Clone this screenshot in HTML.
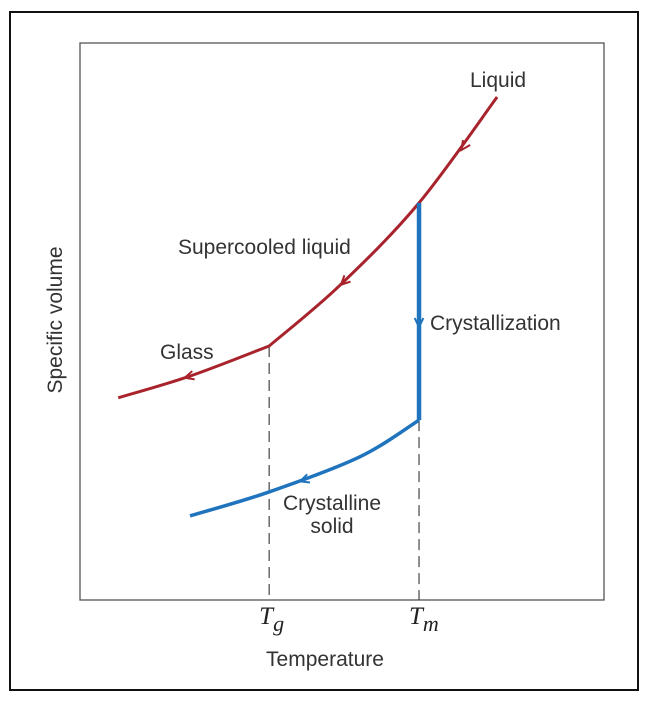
<!DOCTYPE html>
<html><head><meta charset="utf-8"><style>
body{margin:0;background:#fff;}
svg{display:block;font-family:"Liberation Sans",sans-serif;}
</style></head><body>
<svg id="chart" width="656" height="706" viewBox="0 0 656 706">
<rect x="10" y="12" width="628" height="678" fill="#fff" stroke="#111" stroke-width="2"/>
<rect x="80" y="43" width="524" height="557" fill="none" stroke="#555" stroke-width="1.3"/>
<g id="marks"></g>
<text x="470" y="87" font-size="21" fill="#333">Liquid</text>
<text x="178" y="254" font-size="21" fill="#333">Supercooled liquid</text>
<text x="160" y="359" font-size="21" fill="#333">Glass</text>
<text x="430" y="330" font-size="21" fill="#333">Crystallization</text>
<text x="332" y="510" font-size="21" fill="#333" text-anchor="middle">Crystalline</text>
<text x="332" y="533" font-size="21" fill="#333" text-anchor="middle">solid</text>
<text x="325" y="666" font-size="21" fill="#333" text-anchor="middle">Temperature</text>
<text transform="translate(62,320) rotate(-90)" font-size="21" fill="#333" text-anchor="middle">Specific volume</text>
</svg>
<script>
const glassX=[7.3,21.0,36.1];
const glassY=[36.3,40.2,45.6];
const liquidX=[36.1,49.6,64.7,79.6];
const liquidY=[45.6,56.5,71.3,90.3];
const blueX=[21.0,36.1,53.4,64.7];
const blueY=[15.1,19.4,25.7,32.3];
const tickLabels=["T","T"];
const tickSubs=["g","m"];
const tickX=[36.1,64.7];
const crystTop=71.3, crystBottom=32.3;
const sx=v=>80+v*5.24, sy=v=>600-v*5.57;
const NS="http://www.w3.org/2000/svg";
const g=document.getElementById('marks');
function mk(t,a){const e=document.createElementNS(NS,t);for(const k in a)e.setAttribute(k,a[k]);g.appendChild(e);return e;}
function smooth(xs,ys){const p=xs.map((x,i)=>[sx(x),sy(ys[i])]);let d="M"+p[0];
for(let i=0;i<p.length-1;i++){const p0=p[Math.max(0,i-1)],p1=p[i],p2=p[i+1],p3=p[Math.min(p.length-1,i+2)];
const c1=[p1[0]+(p2[0]-p0[0])/6,p1[1]+(p2[1]-p0[1])/6],c2=[p2[0]-(p3[0]-p1[0])/6,p2[1]-(p3[1]-p1[1])/6];
d+=" C"+c1+" "+c2+" "+p2;}return d;}
tickX.forEach((t,i)=>{const l=mk('line',{x1:sx(t),x2:sx(t),y1:sy(i==0?glassY[2]:blueY[3]),y2:600,stroke:'#444','stroke-width':1.2,'stroke-dasharray':'11,6'});


const tx=mk('text',{x:sx(t)-10,y:624,'font-size':25,'font-style':'italic','font-family':'Liberation Serif,serif',fill:'#222'});
tx.textContent=tickLabels[i];


const ts=mk('tspan',{'font-size':22,dy:7});ts.textContent=tickSubs[i];tx.appendChild(ts);});
const red=mk('path',{d:smooth(glassX,glassY)+" "+smooth(liquidX,liquidY).replace('M',' L'),fill:'none',stroke:'#a8232c','stroke-width':3});


const blue=mk('path',{d:smooth(blueX,blueY),fill:'none',stroke:'#1f74bd','stroke-width':3.5});


const v=mk('line',{x1:sx(tickX[1]),x2:sx(tickX[1]),y1:sy(crystTop),y2:sy(crystBottom),stroke:'#1f74bd','stroke-width':4.5});


function arrow(x1,y1,x2,y2,c,n){const a=Math.atan2(y2-y1,x2-x1),L=10,w=0.45;
const e=mk('path',{d:`M${x2-L*Math.cos(a-w)},${y2-L*Math.sin(a-w)} L${x2},${y2} L${x2-L*Math.cos(a+w)},${y2-L*Math.sin(a+w)}`,fill:'none',stroke:c,'stroke-width':2});

}
arrow(sx(75.5),sy(84.5),sx(72.8),sy(80.8),'#a8232c','liquid-arrow');
arrow(sx(53),sy(59.5),sx(49.8),sy(56.6),'#a8232c','supercooled-arrow');
arrow(sx(24),sy(41),sx(20),sy(39.9),'#a8232c','glass-arrow');
arrow(sx(46),sy(22.6),sx(42),sy(21.3),'#1f74bd','solid-arrow');
arrow(sx(64.7),sy(54),sx(64.7),sy(49),'#1f74bd','crystallization-arrow');
</script>
</body></html>
